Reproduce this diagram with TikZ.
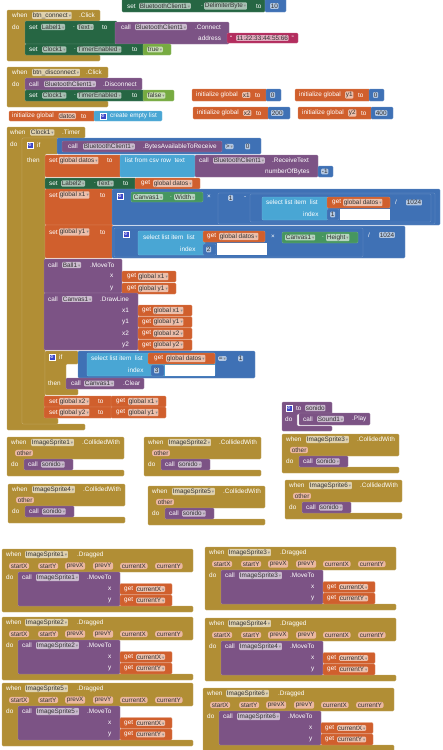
\documentclass[tikz,border=0pt]{standalone}
\usepackage{fontspec}
\setmainfont{Liberation Sans}
\newfontfamily\arrf{DejaVu Sans}
\usepackage{xcolor}
\usetikzlibrary{positioning}

\definecolor{evtc}{RGB}{177,142,53}
\definecolor{setc}{RGB}{38,102,67}
\definecolor{compc}{RGB}{70,150,95}
\definecolor{procc}{RGB}{124,83,133}
\definecolor{varc}{RGB}{208,95,45}
\definecolor{mathc}{RGB}{63,113,181}
\definecolor{lstc}{RGB}{73,166,212}
\definecolor{txtc}{RGB}{179,45,94}
\definecolor{logc}{RGB}{119,171,65}
\definecolor{gearc}{RGB}{60,70,200}

\newcommand{\dd}{\hspace{1pt}{\arrf\fontsize{4.5}{5}\selectfont\textcolor{black!45}{▾}}}
\newcommand{\gearsym}{⚙}

\begin{document}
\begin{tikzpicture}[
    x=1pt, y=-1pt,
    every node/.style={font=\fontsize{6.4}{7}\selectfont},
    lbl/.style={text=white, inner sep=0pt, anchor=west},
    fld/.style={
      fill=white, fill opacity=0.6, text opacity=1, text=black!80,
      rounded corners=1pt, inner sep=0.7pt, anchor=west
    },
    pill/.style={
      fill=varc!45!white, text=black!80, rounded corners=2pt,
      inner xsep=1.6pt, inner ysep=0.8pt, anchor=west
    },
    gearbox/.style={
      fill=gearc, draw=white, line width=0.4pt, inner sep=0pt,
      minimum size=5.5pt, text=white, font=\arrf\fontsize{4}{4}\selectfont
    },
    evtb/.style={fill=evtc, draw=evtc!75!white, line width=0.35pt, rounded corners=1.2pt},
    setb/.style={fill=setc, draw=setc!75!white, line width=0.35pt, rounded corners=1.2pt},
    compb/.style={fill=compc, draw=compc!75!white, line width=0.35pt, rounded corners=1.2pt},
    procb/.style={fill=procc, draw=procc!75!white, line width=0.35pt, rounded corners=1.2pt},
    varb/.style={fill=varc, draw=varc!75!white, line width=0.35pt, rounded corners=1.2pt},
    mathb/.style={fill=mathc, draw=mathc!75!white, line width=0.35pt, rounded corners=1.2pt},
    lstb/.style={fill=lstc, draw=lstc!75!white, line width=0.35pt, rounded corners=1.2pt},
    txtb/.style={fill=txtc, draw=txtc!75!white, line width=0.35pt, rounded corners=1.2pt},
    logb/.style={fill=logc, draw=logc!75!white, line width=0.35pt, rounded corners=1.2pt}
  ]
    \useasboundingbox (0,0) rectangle (442,750);

    % set BluetoothClient1.DelimiterByte
    \draw[setb] (122,-1) rectangle (265,12);
    \node[lbl] (dbset)  at (127,6) {set};
    \node[fld] (dbcomp) at (139,6) {BluetoothClient1\dd};
    \node[lbl] (dbdot)  at (201,6) {.};
    \node[fld] (dbprop) at (204,6) {DelimiterByte\dd};
    \node[lbl] (dbto)   at (256,6) {to};
    \draw[mathb] (265,-1) rectangle (286,12);
    \node[fld] (dbval)  at (270,6) {10};

    % when btn_connect.Click
    \draw[evtb] (7,10) -- (100,10) -- (100,21) -- (25,21) -- (25,55) -- (100,55) -- (100,61) -- (7,61) -- cycle;
    \node[lbl] (cwhen)  at (12,15.5) {when};
    \node[fld] (cbtn)   at (32,15.5) {btn\_connect\dd};
    \node[lbl] (cclick) at (79,15.5) {.Click};
    \node[lbl] (cdo)    at (12,27) {do};
    \draw[setb] (25,21) rectangle (117,44);
    \node[lbl] (cset)   at (29,27) {set};
    \node[fld] (clab)   at (41,27) {Label1\dd};
    \node[lbl] (cdot)   at (73,27) {.};
    \node[fld] (ctext)  at (77,27) {Text\dd};
    \node[lbl] (cto)    at (102,27) {to};
    \draw[procb] (115,22) rectangle (229,44);
    \node[lbl] (ccall)  at (121,27) {call};
    \node[fld] (cbt)    at (135,27) {BluetoothClient1\dd};
    \node[lbl] (cconn)  at (195,27) {.Connect};
    \node[lbl] (caddr)  at (198,38) {address};
    \draw[txtb] (227,33) rectangle (298,43);
    \node[lbl] (cq1)    at (230,38) {“};
    \node[fld] (cmac)   at (236,38) {11:22:33:44:55:66};
    \node[lbl] (cq2)    at (291.5,38) {”};
    \draw[setb] (25,44) rectangle (145,55);
    \node[lbl] (cset2)  at (29,49.5) {set};
    \node[fld] (cclk)   at (42,49.5) {Clock1\dd};
    \node[lbl] (cdot2)  at (74,49.5) {.};
    \node[fld] (ctim)   at (77,49.5) {TimerEnabled\dd};
    \node[lbl] (cto2)   at (132,49.5) {to};
    \draw[logb] (143,44) rectangle (171,55);
    \node[fld] (ctrue)  at (147,49.5) {true\dd};

    % when btn_disconnect.Click
    \draw[evtb] (7,67) -- (108,67) -- (108,78) -- (25,78) -- (25,101) -- (108,101) -- (108,107) -- (7,107) -- cycle;
    \node[lbl] (dwhen)  at (12,72.5) {when};
    \node[fld] (dbtn)   at (32,72.5) {btn\_disconnect\dd};
    \node[lbl] (dclick) at (86,72.5) {.Click};
    \node[lbl] (ddo)    at (12,84) {do};
    \draw[procb] (25,78) rectangle (142,90);
    \node[lbl] (dcall)  at (29,84) {call};
    \node[fld] (dbt)    at (44,84) {BluetoothClient1\dd};
    \node[lbl] (ddisc)  at (103,84) {.Disconnect};
    \draw[setb] (25,90) rectangle (145,101);
    \node[lbl] (dset)   at (29,95.5) {set};
    \node[fld] (dclk)   at (42,95.5) {Clock1\dd};
    \node[lbl] (ddot)   at (74,95.5) {.};
    \node[fld] (dtim)   at (77,95.5) {TimerEnabled\dd};
    \node[lbl] (dto)    at (132,95.5) {to};
    \draw[logb] (143,90) rectangle (174,101);
    \node[fld] (dfalse) at (147,95.5) {false\dd};

    % globals
    \draw[varb] (9,111) rectangle (95,121);
    \node[lbl] (idinit) at (12,116) {initialize global};
    \node[fld] (idname) at (58.5,116) {datos};
    \node[lbl] (idto)   at (81,116) {to};
    \draw[lstb] (94,111) rectangle (162,121);
    \node[gearbox] (idgear) at (103,116) {\gearsym};
    \node[lbl] (idlist) at (110,116) {create empty list};

    \draw[varb] (192,89) rectangle (267,101);
    \node[lbl] (ix1init) at (196,95) {initialize global};
    \node[fld] (ix1name) at (242,95) {x1};
    \node[lbl] (ix1to)   at (255,95) {to};
    \draw[mathb] (266,89) rectangle (281,101);
    \node[fld] (ix1val)  at (270,95) {0};

    \draw[varb] (295,89) rectangle (370,101);
    \node[lbl] (iy1init) at (299,95) {initialize global};
    \node[fld] (iy1name) at (345,95) {y1};
    \node[lbl] (iy1to)   at (358,95) {to};
    \draw[mathb] (369,89) rectangle (384,101);
    \node[fld] (iy1val)  at (373,95) {0};

    \draw[varb] (193,107) rectangle (269,119);
    \node[lbl] (ix2init) at (197,113) {initialize global};
    \node[fld] (ix2name) at (243,113) {x2};
    \node[lbl] (ix2to)   at (256,113) {to};
    \draw[mathb] (268,107) rectangle (290,119);
    \node[fld] (ix2val)  at (271,113) {200};

    \draw[varb] (298,107) rectangle (372,119);
    \node[lbl] (iy2init) at (302,113) {initialize global};
    \node[fld] (iy2name) at (348,113) {y2};
    \node[lbl] (iy2to)   at (361,113) {to};
    \draw[mathb] (371,107) rectangle (393,119);
    \node[fld] (iy2val)  at (375,113) {400};

    % when Clock1.Timer
    \draw[evtb] (7,127) -- (85,127) -- (85,138) -- (22,138) -- (22,424) -- (85,424) -- (85,430) -- (7,430) -- cycle;
    \node[lbl] (twhen)  at (10,132.5) {when};
    \node[fld] (tclk)   at (30,132.5) {Clock1\dd};
    \node[lbl] (ttimer) at (62,132.5) {.Timer};
    \node[lbl] (tdo)    at (10,144) {do};

    % if ... then
    \draw[evtb] (22,138) -- (58,138) -- (58,154) -- (45,154) -- (45,418) -- (58,418) -- (58,424) -- (22,424) -- cycle;
    \node[gearbox] (ifgear) at (30,145) {\gearsym};
    \node[lbl] (ifif)   at (37,145) {if};
    \node[lbl] (ifthen) at (27,160) {then};
    \draw[mathb] (57,138) rectangle (261,154);
    \draw[procb] (62,141) rectangle (222,152);
    \node[lbl] (bcall)  at (68,146.5) {call};
    \node[fld] (bbt)    at (83,146.5) {BluetoothClient1\dd};
    \node[lbl] (bbytes) at (143,146.5) {.BytesAvailableToReceive};
    \node[fld] (bgt)    at (225,146.5) {>\dd};
    \node[fld] (bzero)  at (245,146.5) {0};

    % set global datos
    \draw[varb] (45,155) rectangle (121,177);
    \node[lbl] (sdset)  at (49,160.5) {set};
    \node[fld] (sdvar)  at (59,160.5) {global datos\dd};
    \node[lbl] (sdto)   at (107,160.5) {to};
    \draw[lstb] (120,155) rectangle (195,177);
    \node[lbl] (sdcsv)  at (125,160.5) {list from csv row~~text};
    \draw[procb] (195,155) rectangle (318,177);
    \node[lbl] (sdcall) at (199,160.5) {call};
    \node[fld] (sdbt)   at (213,160.5) {BluetoothClient1\dd};
    \node[lbl] (sdrecv) at (272,160.5) {.ReceiveText};
    \node[lbl] (sdnum)  at (265,172) {numberOfBytes};
    \draw[mathb] (318,166) rectangle (333,177);
    \node[fld] (sdneg)  at (321,171.5) {-1};

    % set Label2.Text
    \draw[setb] (45,178) rectangle (136,189);
    \node[lbl] (l2set)  at (49,183.5) {set};
    \node[fld] (l2lab)  at (61,183.5) {Label2\dd};
    \node[lbl] (l2dot)  at (94,183.5) {.};
    \node[fld] (l2txt)  at (97,183.5) {Text\dd};
    \node[lbl] (l2to)   at (123,183.5) {to};
    \draw[varb] (135,178) rectangle (200,189);
    \node[lbl] (l2get)  at (141,183.5) {get};
    \node[fld] (l2var)  at (153,183.5) {global datos\dd};

    % set global x1
    \draw[varb] (45,189) rectangle (113,225);
    \node[lbl] (sxset)  at (49,195) {set};
    \node[fld] (sxvar)  at (59,195) {global x1\dd};
    \node[lbl] (sxto)   at (100,195) {to};
    \draw[mathb] (112,189) rectangle (440,225);
    \node[gearbox] (sxgear) at (120,196) {\gearsym};
    \draw[compb] (131,192) rectangle (203,202);
    \node[fld] (sxcv)   at (133,197) {Canvas1\dd};
    \node[lbl] (sxdot)  at (170,197) {.};
    \node[fld] (sxw)    at (174,197) {Width\dd};
    \node[lbl] (sxmul)  at (207,197) {×};
    \draw[mathb] (218,193) rectangle (435,224);
    \node[fld] (sxone)  at (228,198) {1};
    \node[lbl] (sxmin)  at (244,198) {-};
    \draw[mathb] (250,194) rectangle (431,222);
    \draw[lstb] (262,197) rectangle (328,220);
    \node[lbl] (sxsel)  at (266,202.5) {select list item~~list};
    \node[lbl] (sxidx)  at (303,214) {index};
    \draw[varb] (327,197) rectangle (390,208);
    \node[lbl] (sxget)  at (332,202.5) {get};
    \node[fld] (sxdat)  at (343,202.5) {global datos\dd};
    \draw[mathb] (327,209) rectangle (339,220);
    \node[fld] (sxi)    at (330,214.5) {1};
    \fill[white] (340,208.5) rectangle (390,220);
    \node[lbl] (sxdiv)  at (395,202.5) {/};
    \node[fld] (sx1024) at (406,202.5) {1024};

    % set global y1
    \draw[varb] (45,225) rectangle (113,258);
    \node[lbl] (syset)  at (49,232) {set};
    \node[fld] (syvar)  at (59,232) {global y1\dd};
    \node[lbl] (syto)   at (100,232) {to};
    \draw[mathb] (112,226) rectangle (405,258);
    \draw[mathb] (114,228) rectangle (363,257);
    \node[gearbox] (sygear) at (126,234) {\gearsym};
    \draw[lstb] (138,231) rectangle (205,255);
    \node[lbl] (sysel)  at (143,237) {select list item~~list};
    \node[lbl] (syidx)  at (180,249) {index};
    \draw[varb] (203,231) rectangle (265,242);
    \node[lbl] (syget)  at (207,236.5) {get};
    \node[fld] (sydat)  at (219,236.5) {global datos\dd};
    \draw[mathb] (203,244) rectangle (216,255);
    \node[fld] (syi)    at (206,249.5) {2};
    \fill[white] (217,242.5) rectangle (267,255);
    \node[lbl] (symul)  at (271,237) {×};
    \draw[compb] (282,232) rectangle (358,243);
    \node[fld] (sycv)   at (285,237.5) {Canvas1\dd};
    \node[lbl] (sydot)  at (322,237.5) {.};
    \node[fld] (syh)    at (326,237.5) {Height\dd};
    \node[lbl] (sydiv)  at (368,235) {/};
    \node[fld] (sy1024) at (379,235) {1024};

    % call Ball1.MoveTo
    \draw[procb] (44,259) rectangle (122,293);
    \node[lbl] (mvcall) at (48,265) {call};
    \node[fld] (mvball) at (62,265) {Ball1\dd};
    \node[lbl] (mvmove) at (90,265) {.MoveTo};
    \node[lbl] (mvx)    at (110,276) {x};
    \node[lbl] (mvy)    at (110,288) {y};
    \draw[varb] (122,271) rectangle (176,282);
    \node[lbl] (mvgx)   at (127,276.5) {get};
    \node[fld] (mvvx)   at (138,276.5) {global x1\dd};
    \draw[varb] (122,283) rectangle (176,294);
    \node[lbl] (mvgy)   at (127,288.5) {get};
    \node[fld] (mvvy)   at (138,288.5) {global y1\dd};

    % call Canvas1.DrawLine
    \draw[procb] (44,293) rectangle (138,350);
    \node[lbl] (dwcall) at (48,299) {call};
    \node[fld] (dwcv)   at (62,299) {Canvas1\dd};
    \node[lbl] (dwdraw) at (100,299) {.DrawLine};
    \node[lbl] (dwx1)   at (122,310.5) {x1};
    \node[lbl] (dwy1)   at (122,322) {y1};
    \node[lbl] (dwx2)   at (122,333.5) {x2};
    \node[lbl] (dwy2)   at (122,345) {y2};
    \draw[varb] (138,305) rectangle (192,316);
    \node[lbl] (dwg1)   at (142,310.5) {get};
    \node[fld] (dwv1)   at (153,310.5) {global x1\dd};
    \draw[varb] (138,316.5) rectangle (192,327.5);
    \node[lbl] (dwg2)   at (142,322) {get};
    \node[fld] (dwv2)   at (153,322) {global y1\dd};
    \draw[varb] (138,328) rectangle (192,339);
    \node[lbl] (dwg3)   at (142,333.5) {get};
    \node[fld] (dwv3)   at (153,333.5) {global x2\dd};
    \draw[varb] (138,339.5) rectangle (192,350.5);
    \node[lbl] (dwg4)   at (142,345) {get};
    \node[fld] (dwv4)   at (153,345) {global y2\dd};

    % if ... then Clear
    \draw[evtb] (45,351) -- (78,351) -- (78,364) -- (66,364) -- (66,389) -- (78,389) -- (78,395) -- (45,395) -- cycle;
    \node[gearbox] (if2gear) at (52,357) {\gearsym};
    \node[lbl] (if2if)   at (59,357) {if};
    \node[lbl] (if2then) at (48,383) {then};
    \draw[mathb] (78,351) rectangle (255,378);
    \draw[lstb] (87,353) rectangle (215,376);
    \node[lbl] (if2sel)  at (91,358.5) {select list item~~list};
    \node[lbl] (if2idx)  at (128,370) {index};
    \draw[varb] (148,353) rectangle (215,364);
    \node[lbl] (if2get)  at (154,358.5) {get};
    \node[fld] (if2dat)  at (166,358.5) {global datos\dd};
    \draw[mathb] (151,365) rectangle (164,376);
    \node[fld] (if2i)    at (154,370.5) {3};
    \fill[white] (165,364.5) rectangle (215,376);
    \node[fld] (if2eq)   at (218,358.5) {=\dd};
    \node[fld] (if2one)  at (238,358.5) {1};
    \draw[procb] (66,378) rectangle (144,389);
    \node[lbl] (clcall)  at (71,383.5) {call};
    \node[fld] (clcv)    at (84,383.5) {Canvas1\dd};
    \node[lbl] (clclr)   at (123,383.5) {.Clear};

    % set global x2 / y2
    \draw[varb] (44,396) rectangle (112,407);
    \node[lbl] (s2set)   at (49,401.5) {set};
    \node[fld] (s2var)   at (59,401.5) {global x2\dd};
    \node[lbl] (s2to)    at (98,401.5) {to};
    \draw[varb] (111,396) rectangle (166,407);
    \node[lbl] (s2get)   at (116,401.5) {get};
    \node[fld] (s2val)   at (128,401.5) {global x1\dd};
    \draw[varb] (44,407) rectangle (112,418);
    \node[lbl] (s3set)   at (49,412.5) {set};
    \node[fld] (s3var)   at (59,412.5) {global y2\dd};
    \node[lbl] (s3to)    at (98,412.5) {to};
    \draw[varb] (111,407) rectangle (166,418);
    \node[lbl] (s3get)   at (116,412.5) {get};
    \node[fld] (s3val)   at (128,412.5) {global y1\dd};

    % to sonido
    \draw[procb] (282,402) -- (332,402) -- (332,414) -- (297,414) -- (297,426) -- (332,426) -- (332,431) -- (282,431) -- cycle;
    \node[gearbox] (pgear) at (289,408) {\gearsym};
    \node[lbl] (pto)    at (296,408) {to};
    \node[fld] (pname)  at (305,408) {sonido};
    \node[lbl] (pdo)    at (285,419.5) {do};
    \draw[procb] (299,413) rectangle (370,425);
    \node[lbl] (pcall)  at (303,419) {call};
    \node[fld] (psnd)   at (317,419) {Sound1\dd};
    \node[lbl] (pplay)  at (352,419) {.Play};

    % CollidedWith events
    \foreach \i/\x/\y in {1/7/437, 2/144/437, 3/282/434, 4/8/484, 5/148/486, 6/285/480} {
      \draw[evtb] (\x,\y) -- ++(117,0) -- ++(0,22) -- ++(-100,0) -- ++(0,11) -- ++(100,0) -- ++(0,6) -- ++(-117,0) -- cycle;
      \node[lbl]  (cwwhen\i)  at (\x+4,\y+5.5) {when};
      \node[fld]  (cwspr\i)   at (\x+24,\y+5.5) {ImageSprite\i\dd};
      \node[lbl]  (cwcol\i)   at (\x+75,\y+5.5) {.CollidedWith};
      \node[pill] (cwother\i) at (\x+8,\y+16) {other};
      \node[lbl]  (cwdo\i)    at (\x+4,\y+27.5) {do};
      \draw[procb] (\x+17,\y+22) rectangle (\x+66,\y+33);
      \node[lbl]  (cwcall\i)  at (\x+21,\y+27.5) {call};
      \node[fld]  (cwproc\i)  at (\x+34,\y+27.5) {sonido\dd};
    }

    % Dragged events
    \foreach \i/\x/\y in {1/2/549, 2/2/617, 5/2/683, 3/205/547, 4/205/618, 6/203/688} {
      \draw[evtb] (\x,\y) -- ++(191,0) -- ++(0,23) -- ++(-175,0) -- ++(0,34) -- ++(175,0) -- ++(0,6) -- ++(-191,0) -- cycle;
      \node[lbl]  (dgwhen\i) at (\x+4,\y+5.5) {when};
      \node[fld]  (dgspr\i)  at (\x+23,\y+5.5) {ImageSprite\i\dd};
      \node[lbl]  (dgdrag\i) at (\x+75,\y+5.5) {.Dragged};
      \node[pill] (dgsx\i)   at (\x+7,\y+17) {startX};
      \node[pill] (dgsy\i)   at (\x+36,\y+17) {startY};
      \node[pill] (dgpx\i)   at (\x+63,\y+17) {prevX};
      \node[pill] (dgpy\i)   at (\x+91,\y+17) {prevY};
      \node[pill] (dgcx\i)   at (\x+118,\y+17) {currentX};
      \node[pill] (dgcy\i)   at (\x+153,\y+17) {currentY};
      \node[lbl]  (dgdo\i)   at (\x+4,\y+28.5) {do};
      \draw[procb] (\x+16,\y+23) rectangle (\x+118,\y+57);
      \node[lbl]  (dgcall\i) at (\x+20,\y+28.5) {call};
      \node[fld]  (dgobj\i)  at (\x+34,\y+28.5) {ImageSprite\i\dd};
      \node[lbl]  (dgmove\i) at (\x+85,\y+28.5) {.MoveTo};
      \node[lbl]  (dgx\i)    at (\x+106,\y+40) {x};
      \node[lbl]  (dgy\i)    at (\x+106,\y+51.5) {y};
      \draw[varb] (\x+118,\y+34.5) rectangle (\x+170,\y+45.5);
      \node[lbl]  (dggx\i)   at (\x+122,\y+40) {get};
      \node[fld]  (dgvx\i)   at (\x+134,\y+40) {currentX\dd};
      \draw[varb] (\x+118,\y+46) rectangle (\x+170,\y+57);
      \node[lbl]  (dggy\i)   at (\x+122,\y+51.5) {get};
      \node[fld]  (dgvy\i)   at (\x+134,\y+51.5) {currentY\dd};
    }

  \end{tikzpicture}
\end{document}
